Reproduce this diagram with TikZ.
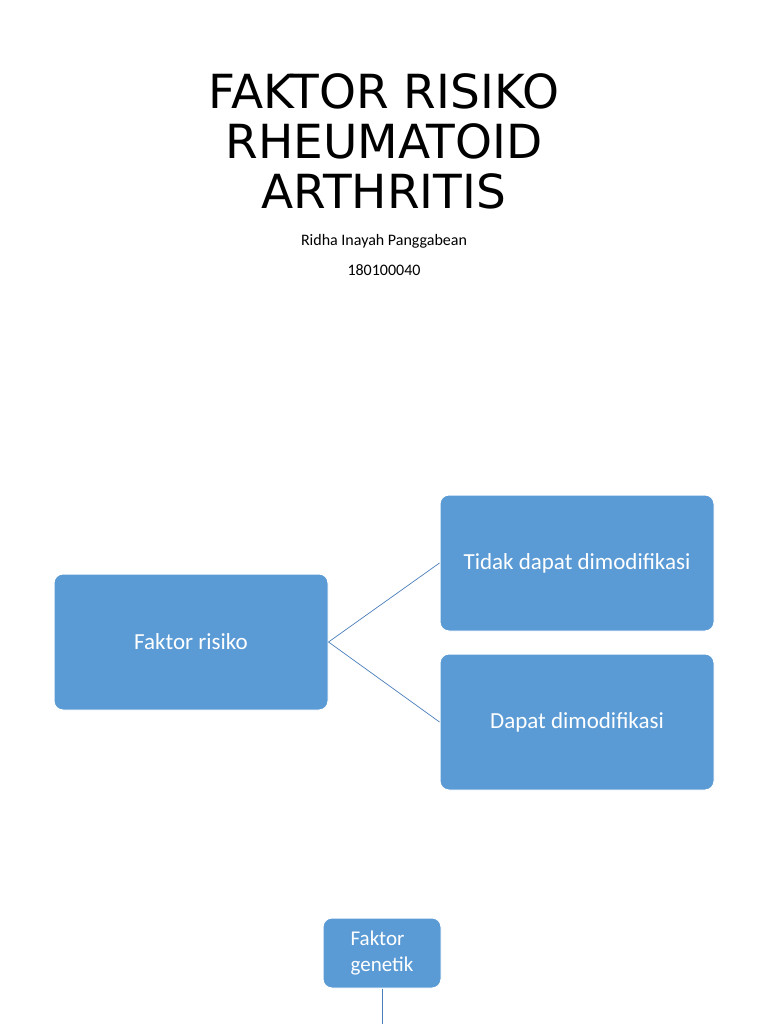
\documentclass[tikz,border=0pt]{standalone}
\usepackage{fontspec}
\setmainfont{Carlito}
\newfontfamily\titlefont{DejaVu Sans}
\definecolor{boxblue}{HTML}{5B9BD5}
\definecolor{linkblue}{HTML}{4A7EBB}
\begin{document}
\begin{tikzpicture}[x=1pt,y=-1pt,
  bx/.style={draw=white,line width=1pt,fill=boxblue,rounded corners=9pt,text=white,font=\fontsize{23}{27}\selectfont},
  link/.style={draw=linkblue,line width=0.7pt}]
\useasboundingbox (0,0) rectangle (768,1024);
\fill[white] (0,0) rectangle (768,1024);
\node[font=\titlefont\fontsize{47}{50}\selectfont,align=center] (title) at (384,141) {FAKTOR RISIKO\\RHEUMATOID\\ARTHRITIS};
\node[font=\fontsize{16}{30}\selectfont,align=center] (sub) at (384,255) {Ridha Inayah Panggabean\\180100040};
\node[bx,minimum width=274pt,minimum height=136pt] (fr) at (191,642) {Faktor risiko};
\node[bx,minimum width=274pt,minimum height=136pt] (td) at (577,563) {Tidak dapat dimodifikasi};
\node[bx,minimum width=274pt,minimum height=136pt] (dd) at (577,722) {Dapat dimodifikasi};
\node[bx,minimum width=118pt,minimum height=70pt,align=left,font=\fontsize{21}{26}\selectfont] (fg) at (382,953) {Faktor\\genetik};
\coordinate (end) at (382,1024);
\draw[link] (fr.east) -- (td.west);
\draw[link] (fr.east) -- (dd.west);
\draw[link] (fg.south) -- (end);
\end{tikzpicture}
\end{document}
